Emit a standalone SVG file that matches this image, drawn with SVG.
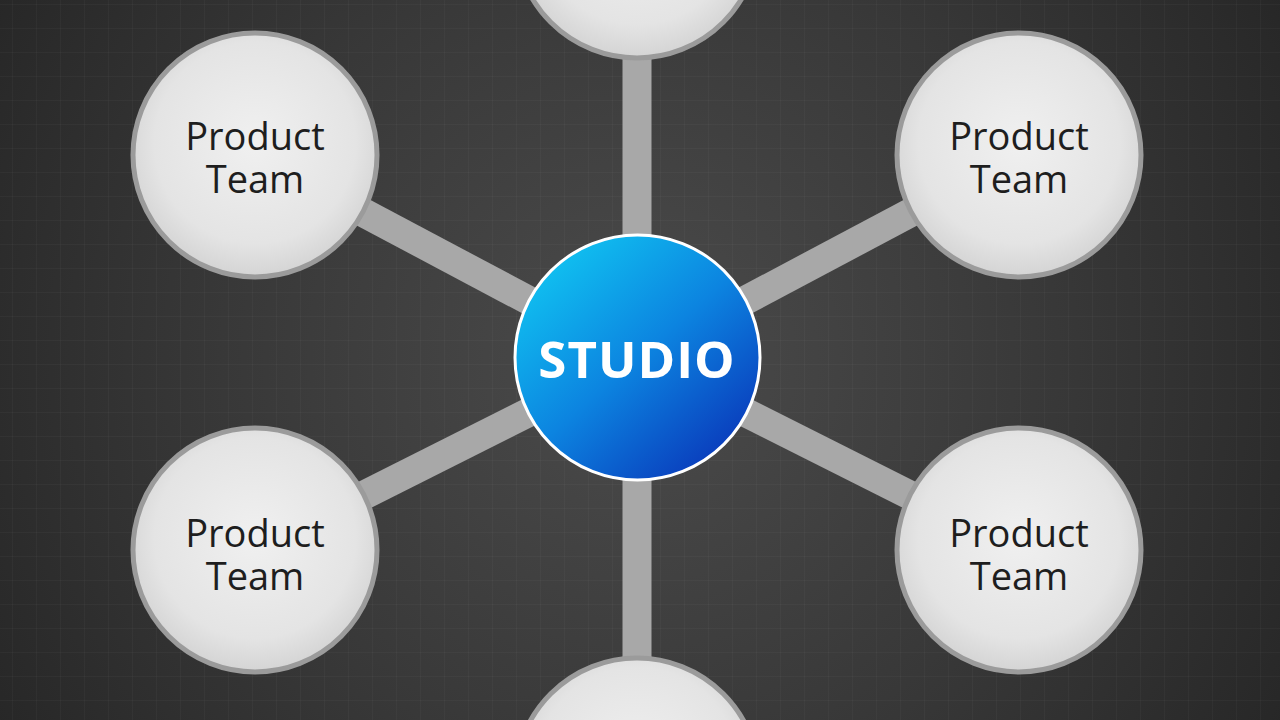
<svg xmlns="http://www.w3.org/2000/svg" width="1280" height="720" viewBox="0 0 1280 720">
  <defs>
    <radialGradient id="bg" cx="640" cy="360" r="760" gradientUnits="userSpaceOnUse">
      <stop offset="0" stop-color="#4b4b4b"/>
      <stop offset="0.55" stop-color="#383838"/>
      <stop offset="1" stop-color="#262626"/>
    </radialGradient>
    <pattern id="grid" x="12" y="4" width="24" height="24" patternUnits="userSpaceOnUse">
      <path d="M0 0H24M0 0V24" fill="none" stroke="#ffffff" stroke-opacity="0.05" stroke-width="1"/>
    </pattern>
    <radialGradient id="nodeFill" cx="0.5" cy="0.45" r="0.55">
      <stop offset="0" stop-color="#f0f0f0"/>
      <stop offset="0.75" stop-color="#e4e4e4"/>
      <stop offset="1" stop-color="#d4d4d4"/>
    </radialGradient>
    <linearGradient id="blue" x1="0.15" y1="0.1" x2="0.85" y2="0.9">
      <stop offset="0" stop-color="#10c0f0"/>
      <stop offset="0.5" stop-color="#0c84e0"/>
      <stop offset="1" stop-color="#0a3cbc"/>
    </linearGradient>
    <style>
      .conn { stroke: #a8a8a8; stroke-width: 29; stroke-linecap: butt; fill: none; }
      .node { fill: url(#nodeFill); stroke: #9b9b9b; stroke-width: 5; }
      .label { font-family: "Open Sans", "Noto Sans", "Liberation Sans", sans-serif; font-size: 38px; fill: #1e1e1e; text-anchor: middle; }
      .hub { fill: url(#blue); stroke: #ffffff; stroke-width: 3; }
      .hubtext { font-family: "Open Sans", "Noto Sans", "Liberation Sans", sans-serif; font-weight: 700; font-size: 51px; fill: #ffffff; text-anchor: middle; letter-spacing: 1px; }
    </style>
  </defs>
  <rect width="1280" height="720" fill="url(#bg)"/>
  <rect width="1280" height="720" fill="url(#grid)"/>

  <g id="connectors">
    <line class="conn" x1="637" y1="358" x2="637" y2="-64"/>
    <line class="conn" x1="637" y1="358" x2="637" y2="780"/>
    <line class="conn" x1="637" y1="358" x2="255" y2="155"/>
    <line class="conn" x1="637" y1="358" x2="1019" y2="155"/>
    <line class="conn" x1="637" y1="358" x2="255" y2="550"/>
    <line class="conn" x1="637" y1="358" x2="1019" y2="550"/>
  </g>

  <g id="node-top">
    <circle class="node" cx="637" cy="-64" r="122"/>
  </g>
  <g id="node-bottom">
    <circle class="node" cx="637" cy="780" r="122"/>
  </g>
  <g id="node-top-left">
    <circle class="node" cx="255" cy="155" r="122"/>
    <text class="label" x="255" y="150">Product</text>
    <text class="label" x="255" y="193">Team</text>
  </g>
  <g id="node-top-right">
    <circle class="node" cx="1019" cy="155" r="122"/>
    <text class="label" x="1019" y="150">Product</text>
    <text class="label" x="1019" y="193">Team</text>
  </g>
  <g id="node-bottom-left">
    <circle class="node" cx="255" cy="550" r="122"/>
    <text class="label" x="255" y="547">Product</text>
    <text class="label" x="255" y="590">Team</text>
  </g>
  <g id="node-bottom-right">
    <circle class="node" cx="1019" cy="550" r="122"/>
    <text class="label" x="1019" y="547">Product</text>
    <text class="label" x="1019" y="590">Team</text>
  </g>
  <g id="node-studio">
    <circle class="hub" cx="637.5" cy="357.5" r="122.5"/>
    <text class="hubtext" x="637" y="378">STUDIO</text>
  </g>
</svg>
